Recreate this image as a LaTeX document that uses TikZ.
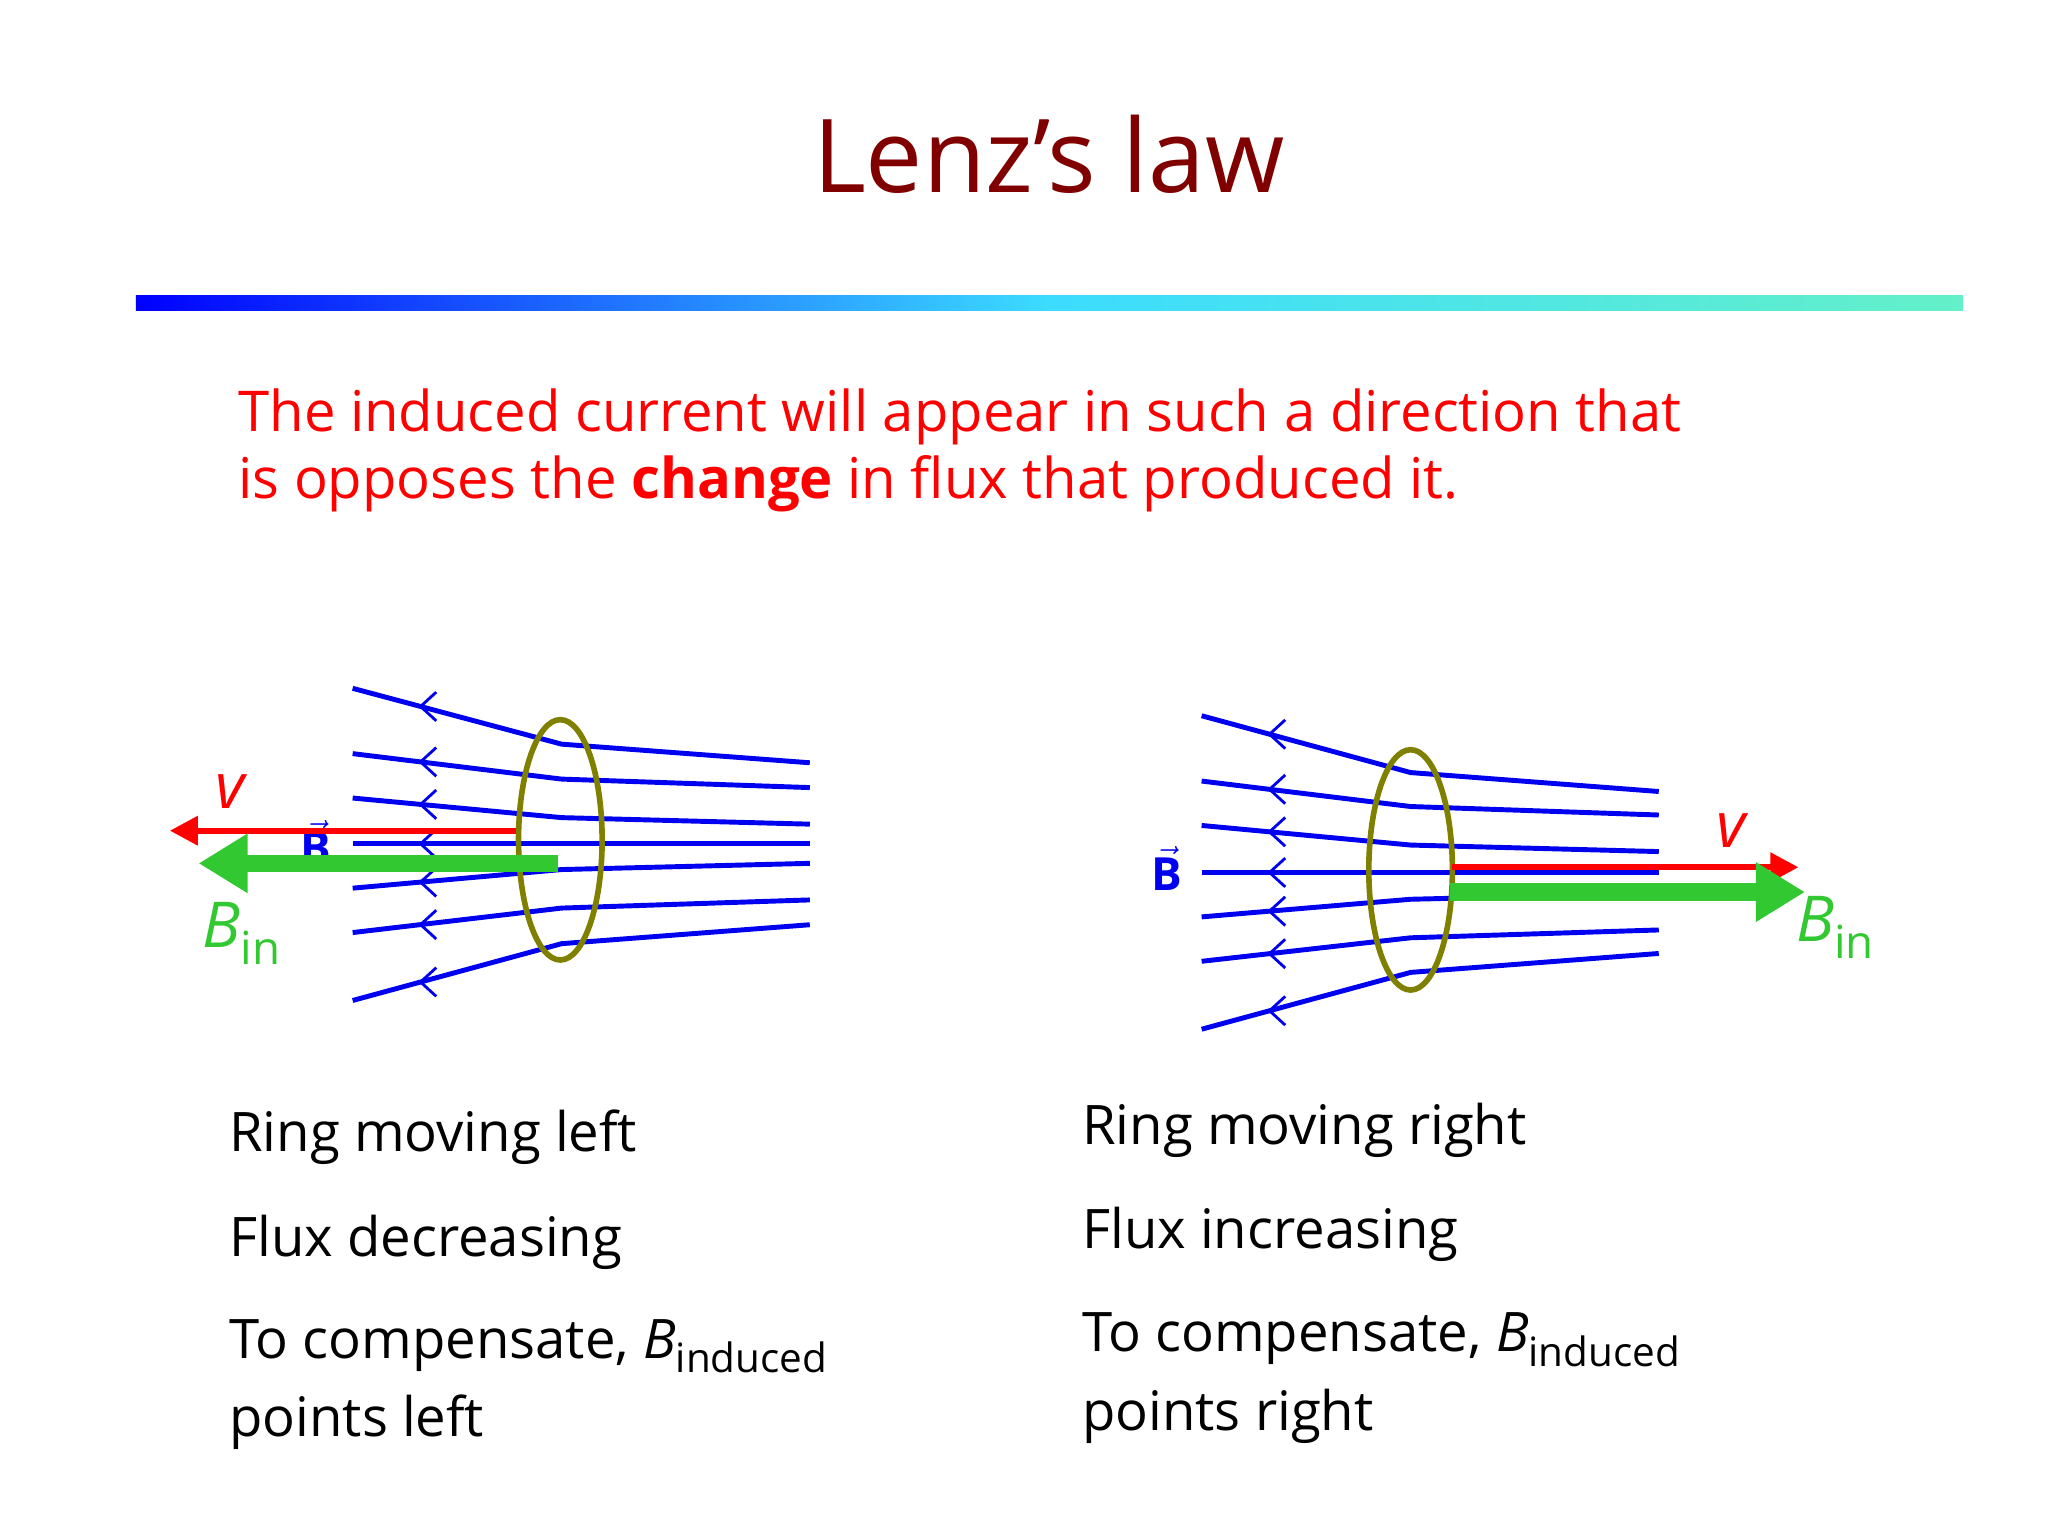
\documentclass[tikz,border=0pt]{standalone}
\usepackage{fontspec}
\setmainfont{Open Sans}
\usetikzlibrary{arrows.meta}
\definecolor{titlered}{RGB}{128,0,0}
\definecolor{fblue}{RGB}{0,0,240}
\definecolor{olive2}{RGB}{128,128,0}
\definecolor{gr}{RGB}{50,200,50}
\begin{document}
\begin{tikzpicture}[x=0.01306cm,y=-0.01306cm,
  fl/.style={fblue,line width=1.4pt},
  chev/.style={fblue,line width=0.8pt},
  ring/.style={olive2,line width=1.6pt},
  vel/.style={red,line width=1.8pt,-{Triangle[length=8pt,width=8pt]}},
  bin/.style={gr,line width=5pt,-{Triangle[length=14pt,width=16pt]}},
  body/.style={anchor=base west,inner sep=0pt,font=\fontsize{15.5}{19}\selectfont}]
\useasboundingbox (0,0) rectangle (1568,1176);
\node (title) at (803,118) {\fontsize{29}{34}\selectfont\color{titlered}Lenz’s law};
\shade[left color=blue, right color={rgb,255:red,100;green,240;blue,200}, middle color={rgb,255:red,60;green,220;blue,255}] (104,226) rectangle (1503,238);
\node[body,red,font=\fontsize{16}{19}\selectfont] (t1) at (182,330) {The induced current will appear in such a direction that};
\node[body,red,font=\fontsize{16}{19}\selectfont] (t2) at (182,382) {is opposes the \textbf{change} in flux that produced it.};
% left diagram
\foreach \a/\b in {527/584,577/603,611/631,646/646,680/661,714/689,766/708}{
  \draw[fl] (270,\a) -- (430,{\a+(\b-\a)*0.75}) -- (620,\b);
  \pgfmathsetmacro\yy{\a+(\b-\a)*0.75*52/160}
  \draw[chev] (334,\yy-11) -- (322,\yy) -- (334,\yy+11);
}
\node[fblue,font=\fontsize{13}{13}\selectfont] (bl) at (242,645) {$\vec{\mathbf B}$};
\draw[ring] (429,643) ellipse [x radius=32,y radius=92];
\coordinate (lv0) at (395,636); \coordinate (lv1) at (130,636);
\draw[vel] (lv0) -- (lv1);
\coordinate (lb0) at (427,661); \coordinate (lb1) at (152,661);
\draw[bin] (lb0) -- (lb1);
\node[red,font=\fontsize{18}{18}\selectfont\itshape] (lvl) at (176,606) {v};
\node[gr,font=\fontsize{18}{18}\selectfont] (lbl) at (185,715) {\textit{B}\raisebox{-0.5ex}{\fontsize{13}{13}\selectfont in}};
% right diagram
\foreach \a/\b in {548/606,598/624,632/652,668/668,702/684,736/712,788/730}{
  \draw[fl] (920,\a) -- (1080,{\a+(\b-\a)*0.75}) -- (1270,\b);
  \pgfmathsetmacro\yy{\a+(\b-\a)*0.75*52/160}
  \draw[chev] (984,\yy-11) -- (972,\yy) -- (984,\yy+11);
}
\node[fblue,font=\fontsize{13}{13}\selectfont] (br) at (893,665) {$\vec{\mathbf B}$};
\draw[ring] (1080,666) ellipse [x radius=32,y radius=92];
\coordinate (rv0) at (1112,664); \coordinate (rv1) at (1377,664);
\draw[vel] (rv0) -- (rv1);
\coordinate (rb0) at (1110,683); \coordinate (rb1) at (1382,683);
\draw[bin] (rb0) -- (rb1);
\node[red,font=\fontsize{18}{18}\selectfont\itshape] (rvl) at (1325,636) {v};
\node[gr,font=\fontsize{18}{18}\selectfont] (rbl) at (1405,710) {\textit{B}\raisebox{-0.5ex}{\fontsize{13}{13}\selectfont in}};
% texts
\node[body] (l1) at (175,882) {Ring moving left};
\node[body] (l2) at (175,962) {Flux decreasing};
\node[body] (l3) at (175,1040) {To compensate, \textit{B}\raisebox{-0.5ex}{\fontsize{11.5}{12}\selectfont induced}};
\node[body] (l4) at (175,1100) {points left};
\node[body] (r1) at (828,876) {Ring moving right};
\node[body] (r2) at (828,956) {Flux increasing};
\node[body] (r3) at (828,1035) {To compensate, \textit{B}\raisebox{-0.5ex}{\fontsize{11.5}{12}\selectfont induced}};
\node[body] (r4) at (828,1095) {points right};
\end{tikzpicture}
\end{document}
